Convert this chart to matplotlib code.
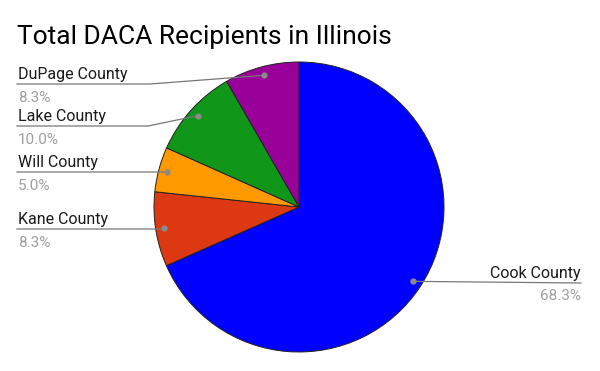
import numpy as np
import matplotlib.pyplot as plt

plt.rcParams['font.family'] = ['Roboto', 'DejaVu Sans']

# data
counties = ["Cook County", "Kane County", "Will County", "Lake County", "DuPage County"]
shares = [68.3, 8.3, 5.0, 10.0, 8.3]
colors = ["#0000ff", "#dc3912", "#ff9900", "#109618", "#990099"]

W, H = 600, 371
fig = plt.figure(figsize=(W / 100, H / 100), dpi=100)
ax = fig.add_axes([0, 0, 1, 1])

cx, cy, r = 299, H - 207, 145
wedges, _ = ax.pie(shares, colors=colors, startangle=90, counterclock=False,
                   center=(cx, cy), radius=r,
                   wedgeprops=dict(edgecolor="#222222", linewidth=0.7))
ax.set_xlim(0, W)
ax.set_ylim(0, H)
ax.set_aspect("equal")
ax.axis("off")

# label layout (pixel y from top of image, knee x)
label_y = {"Cook County": 283, "Kane County": 229, "Will County": 172,
           "Lake County": 126, "DuPage County": 84}
knee_x = {"Kane County": 160, "Will County": 165,
          "Lake County": 148, "DuPage County": 150}

for w, name, val in zip(wedges, counties, shares):
    ang = np.deg2rad((w.theta1 + w.theta2) / 2)
    dx = cx + 0.94 * r * np.cos(ang)
    dy = cy + 0.94 * r * np.sin(ang)
    ly = H - label_y[name]
    ax.plot([dx], [dy], "o", color="#8a8a8a", ms=3.5, zorder=5)
    if name == "Cook County":
        ax.plot([dx, 581], [dy, ly], color="#777777", lw=0.9, zorder=4)
        ax.text(581, ly + 5, name, ha="right", va="baseline", fontsize=11.5,
                color="#1a1a1a")
        ax.text(581, ly - 17, f"{val:.1f}%", ha="right", va="baseline", fontsize=11,
                color="#9e9e9e")
    else:
        kx = knee_x[name]
        ax.plot([dx, kx, 17], [dy, ly, ly], color="#777777", lw=0.9, zorder=4)
        ax.text(18, ly + 5, name, ha="left", va="baseline", fontsize=11.5,
                color="#1a1a1a")
        ax.text(18, ly - 18, f"{val:.1f}%", ha="left", va="baseline", fontsize=11,
                color="#9e9e9e")

ax.text(17, H - 44, "Total DACA Recipients in Illinois", ha="left", va="baseline",
        fontsize=19, color="#000000")

fig.savefig("out.png", dpi=100)
